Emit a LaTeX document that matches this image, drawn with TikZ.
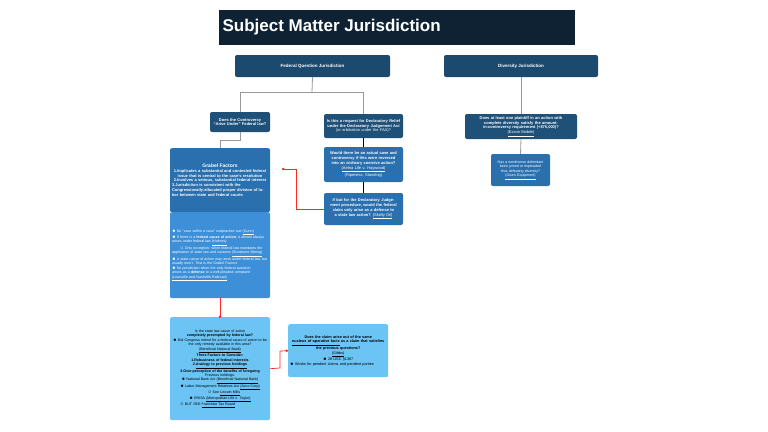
\documentclass[tikz,border=0pt]{standalone}
\usepackage{fontspec}
\setmainfont{Liberation Sans}
\usetikzlibrary{arrows.meta}
\definecolor{navy}{HTML}{0F2233}
\definecolor{dblue}{HTML}{1C4A6E}
\definecolor{mblue}{HTML}{2A6FAE}
\definecolor{sblue}{HTML}{3D8FD8}
\definecolor{lblue}{HTML}{6CC4F4}
\newcommand{\ul}[1]{\underline{#1}}
\tikzset{
 bx/.style={rounded corners=2pt,inner sep=2pt,align=center,font=\fontsize{4}{4.8}\selectfont\bfseries,text=white},
 hd/.style={bx,fill=dblue,font=\fontsize{4.5}{5}\selectfont\bfseries},
 mb/.style={bx,fill=mblue},
 gl/.style={draw=gray!80,line width=0.8pt},
 bl/.style={draw=black,line width=0.8pt},
 rl/.style={draw=red!85,line width=0.7pt,-{Circle[length=2.5pt]}},
}
\begin{document}
\begin{tikzpicture}[x=1pt,y=-1pt]
\path[use as bounding box,fill=white] (0,0) rectangle (768,431);
\fill[navy] (219,10) rectangle (575,45);
\node[anchor=west,text=white,font=\fontsize{17}{17}\selectfont\bfseries] (title) at (219,27.5) {Subject Matter Jurisdiction};
\node[hd,minimum width=155pt,minimum height=22pt] (fq) at (312.5,66) {Federal Question Jurisdiction};
\node[hd,minimum width=154pt,minimum height=22pt] (dj) at (521,66) {Diversity Jurisdiction};
\node[mb,fill=dblue!85!mblue,text width=56pt,minimum height=20pt] (arise) at (240,122) {Does the Controversy ``Arise Under'' Federal law?};
\node[mb,fill=dblue!85!mblue,text width=75pt,minimum height=24pt] (decl) at (363.5,126) {Is this a request for Declaratory Relief under the Declaratory Judgement Act\\[-0.5pt]{\mdseries (or arbitration under the FAA)?}};
\node[mb,text width=75pt,minimum height=35pt] (would) at (363.5,164.5) {Would there be an actual case and controversy if this were reversed into an ordinary coercive action?\\{\mdseries\ul{(Aetna Life v. Haywood)}}\\{\mdseries(Ripeness, Standing)}};
\node[mb,text width=75pt,minimum height=32pt] (ifbut) at (363.5,209) {If but for the Declaratory Judgement procedure, would the federal claim only arise as a defense to a state law action? {\mdseries\ul{(Skelly Oil)}}};
\node[mb,anchor=north,text width=96pt,minimum height=64pt,align=left] (grabel) at (220,148) {\centering{\fontsize{5}{6}\selectfont Grabel Factors}\par
1.Implicates a substantial and contested federal issue that is central to the case's resolution\par
2.Involves a serious, substantial federal interest\par
3.Jurisdiction is consistent with the Congressionally-allocated proper division of labor between state and federal courts};
\node[bx,fill=sblue,anchor=north,text width=96pt,minimum height=86pt,align=left,font=\fontsize{3.6}{4.5}\selectfont] (notes) at (220,212) {
$\bullet$ No ``case within a case'' malpractice suit \ul{(Gunn)}\par
$\bullet$ If there is a \textbf{federal cause of action}, it almost always arises under federal law \ul{(Holmes)}\par
\hspace{8pt}$\circ$ Only exception: when federal law mandates the application of state law and customs \ul{(Shoshone Mining)}\par
$\bullet$ A state cause of action may arise under federal law, but usually won't. Test is the Grabel Factors\par
$\bullet$ No jurisdiction when the only federal question arises as a \textbf{defense} to a well-pleaded complaint \ul{(Louisville and Nashville Railroad)}};
\node[bx,fill=lblue,anchor=north,text=black,text width=96pt,minimum height=103pt,align=left,font=\fontsize{3.6}{4.5}\selectfont] (pre) at (220,317) {\centering Is the state law cause of action\\\textbf{completely preempted by federal law?}\par
$\bullet$ Did Congress intend for a federal cause of action to be the only remedy available in this area? \ul{(Beneficial National Bank)}\par
{\centering\textbf{Three Factors to Consider:}\par}
\textbf{1.Robustness of federal interests}\par
\textbf{2.\ul{Analogy to previous holdings}}\par
\textbf{3.Over-perception of the benefits of foregoing}\par
Previous holdings:\par
$\bullet$ National Bank Act \ul{(Beneficial National Bank)}\par
$\bullet$ Labor Management Relations Act \ul{(Avco Corp)}\par
\hspace{8pt}$\circ$ See \ul{Lincoln Mills}\par
$\bullet$ ERISA \ul{(Metropolitan Life v. Taylor)}\par
\hspace{8pt}$\circ$ BUT SEE \ul{Franchise Tax Board}};
\node[bx,fill=lblue,anchor=north west,text=black,text width=96pt,minimum height=53pt,align=left,font=\fontsize{3.8}{4.7}\selectfont] (nuc) at (288,324) {\centering\textbf{Does the claim arise out of the same \ul{nucleus of operative facts} as a claim that satisfies the previous questions?}\\{\ul{(Gibbs)}}\par
$\bullet$ 28 USC \S1367\par
$\bullet$ Works for pendent claims and pendent parties};
\node[mb,fill=dblue!85!mblue,text width=108pt,minimum height=25pt] (amt) at (521,126.5) {Does at least one plaintiff in an action with complete diversity satisfy the amount-in-controversy requirement (+\$75,000)?\\{\mdseries\ul{(Exxon Mobile)}}};
\node[mb,text width=55pt,minimum height=32pt,font=\fontsize{3.6}{4.5}\selectfont] (nondiv) at (520.5,170) {Has a nondiverse defendant been joined or impleaded thus defeating diversity?\\\ul{(Owen Equipment)}};
\coordinate (split) at (312,92);
\draw[gl] (fq.south) -- (split);
\draw[gl] (split) -- (240,92) -- (arise.north);
\draw[gl] (split) -- (363.5,92) -- (decl.north);
\draw[gl] (arise.south) -- (240,140) -- (220,140) -- (grabel.north);
\draw[bl] (decl.south) -- (would.north);
\draw[bl] (would.south) -- (ifbut.north);
\draw[rl] (ifbut.west) -- (296,209) -- (296,169) -- (282,169);
\draw[rl] (notes.south) -- ([yshift=-1pt]pre.north);
\draw[rl] (pre.east) -- (280,368) -- (280,351) -- (nuc.west);
\draw[gl] (dj.south) -- (amt.north);
\draw[gl] (amt.south) -- (nondiv.north);
\end{tikzpicture}
\end{document}
